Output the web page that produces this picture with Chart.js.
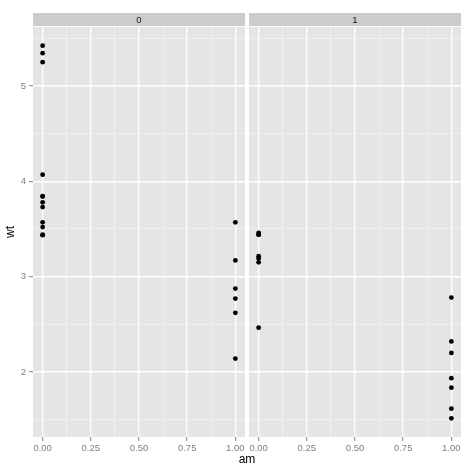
<!DOCTYPE html>
<html>
<head>
<meta charset="utf-8">
<script src="https://cdn.jsdelivr.net/npm/chart.js"></script>
<style>
  html, body { margin: 0; padding: 0; background: #fff; }
  #wrap { position: relative; width: 474px; height: 474px; }
  canvas { position: absolute; left: 0; top: 0; }
</style>
</head>
<body>
<div id="wrap">
  <canvas id="panel0" width="474" height="474"></canvas>
  <canvas id="panel1" width="474" height="474"></canvas>
</div>
<script>
// facet labels (vs) and x categories (am)
const panelLabels = ['0', '1'];
const amValues = [0, 1];

// wt values per facet / am group
const wtVs0Am0 = [3.44, 3.57, 4.07, 3.73, 3.78, 5.25, 5.424, 5.345, 3.52, 3.435, 3.84, 3.845];
const wtVs0Am1 = [2.62, 2.875, 2.14, 3.17, 2.77, 3.57];
const wtVs1Am0 = [3.215, 3.46, 3.19, 3.15, 3.44, 3.44, 2.465];
const wtVs1Am1 = [2.32, 2.2, 1.615, 1.835, 1.935, 1.513, 2.78];

// grid lines (major + minor)
const xTicks = [0, 0.125, 0.25, 0.375, 0.5, 0.625, 0.75, 0.875, 1];
const yTicks = [1.5, 2, 2.5, 3, 3.5, 4, 4.5, 5, 5.5];

const FONT = '"Liberation Sans", Arial, sans-serif';

function isMajorX(v) { return Math.abs(v * 4 - Math.round(v * 4)) < 1e-9; }
function isMajorY(v) { return Math.abs(v - Math.round(v)) < 1e-9; }

// grey panel background + facet strip (+ shared x title)
const panelDecor = {
  id: 'panelDecor',
  beforeDraw(chart, args, opts) {
    const { ctx, chartArea: a } = chart;
    ctx.save();
    ctx.fillStyle = '#E5E5E5';
    ctx.fillRect(a.left, a.top, a.right - a.left, a.bottom - a.top);
    ctx.fillStyle = '#CCCCCC';
    ctx.fillRect(a.left, 13, a.right - a.left, a.top - 14);
    ctx.fillStyle = '#1A1A1A';
    ctx.font = '9.6px ' + FONT;
    ctx.textAlign = 'center';
    ctx.textBaseline = 'middle';
    ctx.fillText(opts.label, (a.left + a.right) / 2, 20);
    if (opts.xTitle) {
      ctx.fillStyle = '#000';
      ctx.font = '12px ' + FONT;
      ctx.fillText(opts.xTitle, 247, 460);
    }
    ctx.restore();
  }
};

function makePanel(id, label, wtAm0, wtAm1, isLeft) {
  const points = wtAm0.map(w => ({ x: amValues[0], y: w }))
    .concat(wtAm1.map(w => ({ x: amValues[1], y: w })));

  return new Chart(document.getElementById(id), {
    type: 'scatter',
    data: {
      datasets: [{
        data: points,
        backgroundColor: '#000',
        borderWidth: 0,
        pointRadius: 2.4,
        pointHoverRadius: 2.4
      }]
    },
    plugins: [panelDecor],
    options: {
      responsive: false,
      animation: false,
      layout: {
        padding: isLeft
          ? { left: 0, top: 27, right: 229, bottom: 0 }
          : { left: 249, top: 27, right: 13, bottom: 0 }
      },
      plugins: {
        legend: { display: false },
        tooltip: { enabled: false },
        panelDecor: { label: label, xTitle: isLeft ? 'am' : '' }
      },
      scales: {
        x: {
          type: 'linear',
          min: -0.05,
          max: 1.05,
          afterBuildTicks: s => { s.ticks = xTicks.map(v => ({ value: v })); },
          afterFit: s => { s.height = 37; },
          border: { display: false },
          grid: {
            color: c => isMajorX(c.tick.value) ? '#FFFFFF' : '#F2F2F2',
            lineWidth: c => isMajorX(c.tick.value) ? 1.4 : 0.8,
            tickColor: c => isMajorX(c.tick.value) ? '#7F7F7F' : 'rgba(0,0,0,0)',
            tickLength: 4,
            tickWidth: 1
          },
          ticks: {
            autoSkip: false,
            maxRotation: 0,
            padding: 2,
            color: '#7F7F7F',
            font: { family: FONT, size: 9.5 },
            callback: v => isMajorX(v) ? v.toFixed(2) : ''
          }
        },
        y: {
          type: 'linear',
          min: 1.3175,
          max: 5.6195,
          afterBuildTicks: s => { s.ticks = yTicks.map(v => ({ value: v })); },
          afterFit: s => { s.width = isLeft ? 33 : 0; },
          border: { display: false },
          title: {
            display: isLeft,
            text: 'wt',
            color: '#000',
            font: { family: FONT, size: 12 },
            padding: 3
          },
          grid: {
            color: c => isMajorY(c.tick.value) ? '#FFFFFF' : '#F2F2F2',
            lineWidth: c => isMajorY(c.tick.value) ? 1.4 : 0.8,
            tickColor: c => isMajorY(c.tick.value) ? '#7F7F7F' : 'rgba(0,0,0,0)',
            drawTicks: isLeft,
            tickLength: 4,
            tickWidth: 1
          },
          ticks: {
            display: isLeft,
            autoSkip: false,
            padding: 3,
            color: '#7F7F7F',
            font: { family: FONT, size: 9.5 },
            callback: v => isMajorY(v) ? String(v) : ''
          }
        }
      }
    }
  });
}

makePanel('panel0', panelLabels[0], wtVs0Am0, wtVs0Am1, true);
makePanel('panel1', panelLabels[1], wtVs1Am0, wtVs1Am1, false);
</script>
</body>
</html>
